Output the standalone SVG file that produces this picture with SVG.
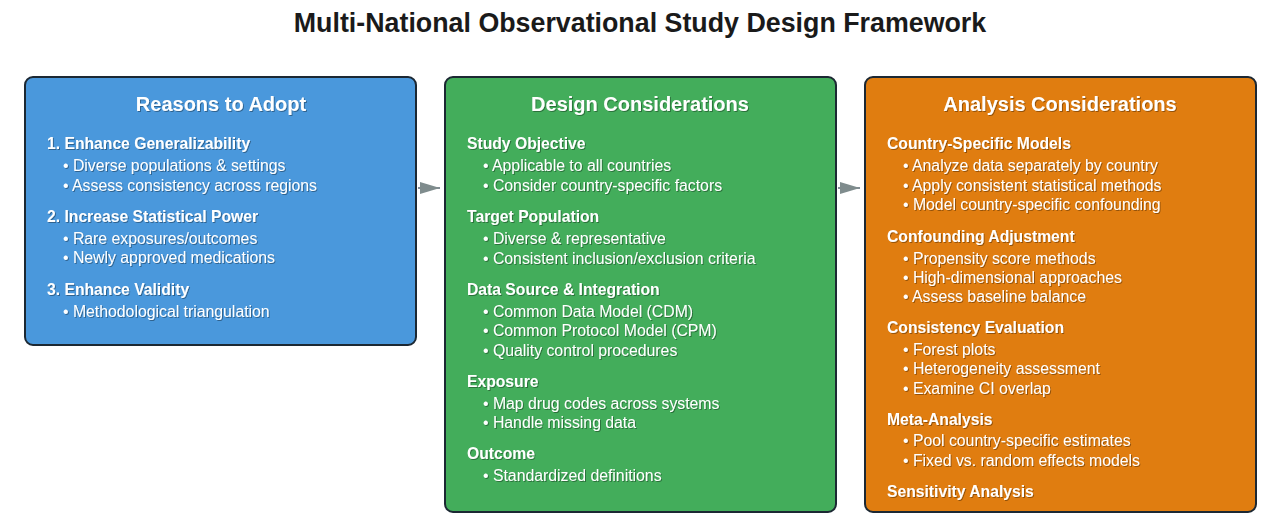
<svg xmlns="http://www.w3.org/2000/svg" width="1280" height="521" viewBox="0 0 1280 521">
<defs>
<style>
.title{font-family:"Liberation Sans",Arial,sans-serif;font-size:26.8px;font-weight:bold;fill:#1a1a1a;text-anchor:middle}
.box{stroke:#1c2833;stroke-width:2}
.h{font-family:"Liberation Sans",Arial,sans-serif;font-size:20px;font-weight:bold;fill:#fff;text-anchor:middle}
.s{font-family:"Liberation Sans",Arial,sans-serif;font-size:15.7px;font-weight:bold;fill:#fff}
.b{font-family:"Liberation Sans",Arial,sans-serif;font-size:15.8px;fill:#fff}
.conn{stroke:#566573;stroke-width:1.5;fill:none}
</style>
<filter id="ts" x="-5%" y="-5%" width="110%" height="110%">
<feDropShadow dx="1" dy="1" stdDeviation="0.6" flood-color="#000" flood-opacity="0.35"/>
</filter>
<marker id="arr" markerWidth="20" markerHeight="12" refX="20" refY="6" orient="auto" markerUnits="userSpaceOnUse" viewBox="0 0 20 12">
<polygon points="0 0, 20 6, 0 12" fill="#7f8c8d"/>
</marker>
</defs>
<rect width="1280" height="521" fill="#fff"/>
<text class="title" x="640" y="32">Multi-National Observational Study Design Framework</text>

<g id="reasons">
<rect class="box" x="25" y="77" width="391" height="268" rx="8" fill="#4a98dc"/>
<g filter="url(#ts)">
<text class="h" x="221" y="111">Reasons to Adopt</text>
<text class="s" x="47" y="149">1. Enhance Generalizability</text>
<text class="b" x="63" y="171">• Diverse populations &amp; settings</text>
<text class="b" x="63" y="191">• Assess consistency across regions</text>
<text class="s" x="47" y="222">2. Increase Statistical Power</text>
<text class="b" x="63" y="244">• Rare exposures/outcomes</text>
<text class="b" x="63" y="263">• Newly approved medications</text>
<text class="s" x="47" y="295">3. Enhance Validity</text>
<text class="b" x="63" y="317">• Methodological triangulation</text>
</g>
</g>

<g id="design">
<rect class="box" x="445" y="77" width="391" height="435" rx="8" fill="#43ad5b"/>
<g filter="url(#ts)">
<text class="h" x="640" y="111">Design Considerations</text>
<text class="s" x="467" y="149">Study Objective</text>
<text class="b" x="483" y="171">• Applicable to all countries</text>
<text class="b" x="483" y="191">• Consider country-specific factors</text>
<text class="s" x="467" y="222">Target Population</text>
<text class="b" x="483" y="244">• Diverse &amp; representative</text>
<text class="b" x="483" y="264">• Consistent inclusion/exclusion criteria</text>
<text class="s" x="467" y="295">Data Source &amp; Integration</text>
<text class="b" x="483" y="317">• Common Data Model (CDM)</text>
<text class="b" x="483" y="336">• Common Protocol Model (CPM)</text>
<text class="b" x="483" y="356">• Quality control procedures</text>
<text class="s" x="467" y="387">Exposure</text>
<text class="b" x="483" y="409">• Map drug codes across systems</text>
<text class="b" x="483" y="428">• Handle missing data</text>
<text class="s" x="467" y="459">Outcome</text>
<text class="b" x="483" y="481">• Standardized definitions</text>
</g>
</g>

<g id="analysis">
<rect class="box" x="865" y="77" width="391" height="435" rx="8" fill="#e07d10"/>
<g filter="url(#ts)">
<text class="h" x="1060" y="111">Analysis Considerations</text>
<text class="s" x="887" y="149">Country-Specific Models</text>
<text class="b" x="903" y="171">• Analyze data separately by country</text>
<text class="b" x="903" y="191">• Apply consistent statistical methods</text>
<text class="b" x="903" y="210">• Model country-specific confounding</text>
<text class="s" x="887" y="242">Confounding Adjustment</text>
<text class="b" x="903" y="264">• Propensity score methods</text>
<text class="b" x="903" y="283">• High-dimensional approaches</text>
<text class="b" x="903" y="302">• Assess baseline balance</text>
<text class="s" x="887" y="333">Consistency Evaluation</text>
<text class="b" x="903" y="355">• Forest plots</text>
<text class="b" x="903" y="374">• Heterogeneity assessment</text>
<text class="b" x="903" y="394">• Examine CI overlap</text>
<text class="s" x="887" y="425">Meta-Analysis</text>
<text class="b" x="903" y="446">• Pool country-specific estimates</text>
<text class="b" x="903" y="466">• Fixed vs. random effects models</text>
<text class="s" x="887" y="497">Sensitivity Analysis</text>
</g>
</g>

<g id="connectors">
<line class="conn" x1="418" y1="188" x2="440" y2="188" marker-end="url(#arr)"/>
<line class="conn" x1="838" y1="188" x2="860" y2="188" marker-end="url(#arr)"/>
</g>
</svg>
